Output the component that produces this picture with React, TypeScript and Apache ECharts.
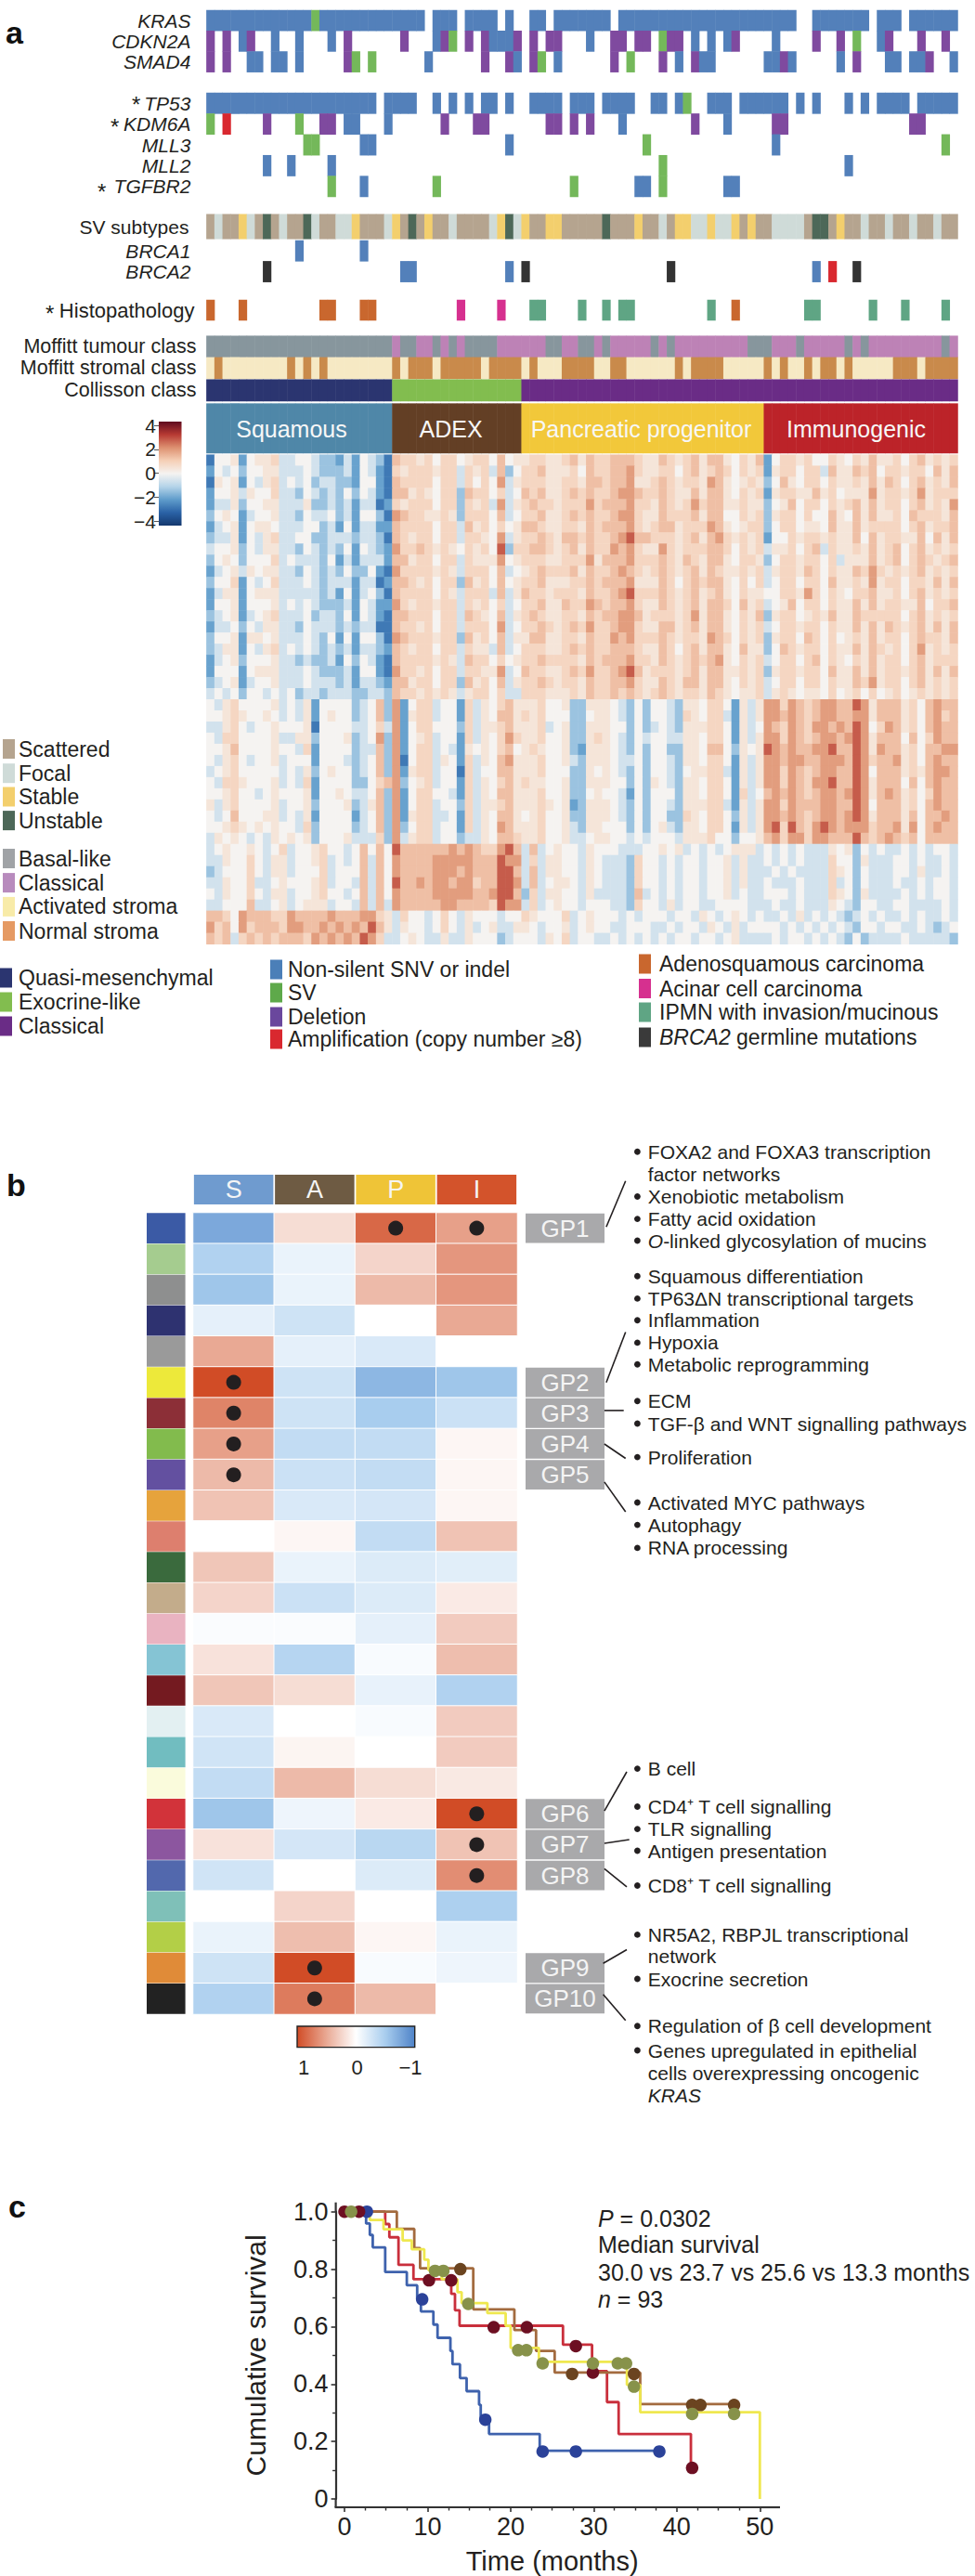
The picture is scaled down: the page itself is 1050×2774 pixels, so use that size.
import React, { useEffect, useRef } from "react";
import * as echarts from "echarts";

const FONT = "Liberation Sans";
const INK = "#231f20";

/* ---------- panel a: genomic tracks (runs of patient columns) ---------- */
const PATIENTS = Array.from({ length: 93 }, (_, i) => String(i));

const KRAS = [[0,12,"n"],[13,13,"v"],[14,26,"n"],[28,30,"n"],[32,35,"n"],[37,37,"n"],[40,41,"n"],[43,49,"n"],[51,72,"n"],[75,81,"n"],[83,85,"n"],[87,92,"n"]];
const CDKN2A = [[0,0,"d"],[2,2,"d"],[4,4,"n"],[5,5,"d"],[8,8,"n"],[11,11,"n"],[15,15,"n"],[17,17,"d"],[24,24,"d"],[28,28,"n"],[29,29,"d"],[30,30,"v"],[32,32,"d"],[34,34,"d"],[35,37,"n"],[38,38,"d"],[40,40,"d"],[42,43,"d"],[47,47,"n"],[50,51,"d"],[53,54,"d"],[56,56,"v"],[57,58,"d"],[60,60,"n"],[62,62,"n"],[64,64,"n"],[65,65,"d"],[70,70,"n"],[75,75,"d"],[78,78,"d"],[80,80,"v"],[83,83,"n"],[84,84,"d"],[88,88,"d"],[91,91,"d"]];
const SMAD4 = [[0,0,"d"],[2,2,"d"],[5,6,"n"],[8,9,"n"],[11,11,"n"],[17,17,"d"],[18,18,"v"],[20,20,"v"],[27,27,"n"],[34,34,"d"],[37,37,"d"],[38,38,"n"],[40,40,"d"],[41,41,"v"],[43,43,"n"],[50,50,"d"],[52,52,"v"],[56,56,"d"],[58,58,"n"],[60,60,"d"],[61,62,"n"],[69,70,"n"],[71,71,"d"],[72,72,"n"],[78,78,"n"],[80,80,"d"],[84,85,"n"],[87,88,"n"],[89,89,"d"],[92,92,"n"]];
const TP53 = [[0,20,"n"],[22,25,"n"],[28,28,"n"],[30,30,"n"],[32,32,"n"],[34,35,"n"],[37,37,"n"],[40,43,"n"],[45,47,"n"],[49,52,"n"],[55,56,"n"],[58,58,"n"],[59,59,"v"],[62,64,"n"],[66,71,"n"],[73,73,"n"],[75,75,"n"],[79,79,"n"],[81,81,"n"],[83,86,"n"],[88,92,"n"]];
const KDM6A = [[0,0,"v"],[2,2,"a"],[7,7,"d"],[11,11,"v"],[14,15,"d"],[17,18,"n"],[22,22,"n"],[29,29,"d"],[33,34,"d"],[42,43,"d"],[45,45,"d"],[47,47,"d"],[51,51,"n"],[60,60,"d"],[64,64,"n"],[70,71,"d"],[87,88,"d"]];
const MLL3 = [[12,13,"v"],[19,20,"n"],[37,37,"n"],[54,54,"v"],[70,70,"n"],[91,91,"v"]];
const MLL2 = [[7,7,"n"],[10,10,"n"],[15,15,"n"],[56,56,"v"],[79,79,"n"]];
const TGFBR2 = [[15,15,"v"],[19,19,"n"],[28,28,"v"],[45,45,"v"],[53,54,"n"],[56,56,"v"],[64,65,"n"]];
const SV_SUBTYPES = [[0,0,"T"],[1,1,"F"],[2,3,"T"],[4,4,"S"],[5,5,"F"],[6,6,"T"],[7,7,"U"],[8,8,"T"],[9,9,"F"],[10,11,"T"],[12,12,"U"],[13,13,"F"],[14,15,"T"],[16,17,"F"],[18,18,"S"],[19,21,"T"],[22,22,"F"],[23,23,"S"],[24,24,"T"],[25,25,"U"],[26,26,"T"],[27,27,"S"],[28,29,"T"],[30,30,"F"],[31,34,"T"],[35,35,"F"],[36,36,"S"],[37,37,"U"],[38,38,"F"],[39,39,"S"],[40,41,"T"],[42,43,"S"],[44,48,"T"],[49,49,"U"],[50,52,"T"],[53,53,"S"],[54,55,"T"],[56,56,"F"],[57,57,"T"],[58,59,"S"],[60,61,"F"],[62,62,"S"],[63,64,"F"],[65,65,"S"],[66,66,"T"],[67,67,"S"],[68,69,"T"],[70,73,"F"],[74,74,"T"],[75,76,"U"],[77,77,"T"],[78,78,"S"],[79,80,"T"],[81,81,"F"],[82,83,"T"],[84,84,"F"],[85,86,"T"],[87,87,"F"],[88,89,"T"],[90,90,"F"],[91,92,"T"]];
const BRCA1 = [[11,11,"n"],[19,19,"n"]];
const BRCA2 = [[7,7,"k"],[24,25,"n"],[37,37,"n"],[39,39,"k"],[57,57,"k"],[75,75,"n"],[77,77,"a"],[80,80,"k"]];
const HISTOPATHOLOGY = [[0,0,"AD"],[4,4,"AD"],[14,15,"AD"],[19,20,"AD"],[31,31,"AC"],[36,36,"AC"],[40,41,"IP"],[46,46,"IP"],[49,49,"IP"],[51,52,"IP"],[62,62,"IP"],[65,65,"AD"],[74,75,"IP"],[82,82,"IP"],[86,86,"IP"],[91,91,"IP"]];
const MOFFITT_TUMOUR = [[0,22,"B"],[23,23,"C"],[24,25,"B"],[26,27,"C"],[28,28,"B"],[29,29,"C"],[30,30,"B"],[31,31,"C"],[32,35,"B"],[36,41,"C"],[42,43,"B"],[44,45,"C"],[46,47,"B"],[48,48,"C"],[49,49,"B"],[50,54,"C"],[55,55,"B"],[56,56,"C"],[57,57,"B"],[58,66,"C"],[67,69,"B"],[70,72,"C"],[73,73,"B"],[74,78,"C"],[79,79,"B"],[80,80,"C"],[81,81,"B"],[82,90,"C"],[91,91,"B"],[92,92,"C"]];
const MOFFITT_STROMAL = [[0,0,"a1"],[1,1,"a2"],[2,9,"a1"],[10,10,"a2"],[11,11,"a1"],[12,12,"a2"],[13,13,"a1"],[14,14,"a2"],[15,22,"a1"],[23,23,"a2"],[24,24,"a1"],[25,27,"a2"],[28,28,"a1"],[29,33,"a2"],[34,34,"a1"],[35,38,"a2"],[39,39,"a1"],[40,40,"a2"],[41,43,"a1"],[44,47,"a2"],[48,49,"a1"],[50,51,"a2"],[52,57,"a1"],[58,58,"a2"],[59,59,"a1"],[60,63,"a2"],[64,68,"a1"],[69,69,"a2"],[70,70,"a1"],[71,71,"a2"],[72,73,"a1"],[74,74,"a2"],[75,75,"a1"],[76,77,"a2"],[78,78,"a1"],[79,79,"a2"],[80,84,"a1"],[85,87,"a2"],[88,88,"a1"],[89,92,"a2"]];
const COLLISSON = [[0,22,"QM"],[23,38,"EX"],[39,92,"CO"]];
const SUBTYPES = [[0,22,"HS"],[23,38,"HA"],[39,68,"HP"],[69,92,"HI"]];
const SUBTYPE_NAMES = ["Squamous", "ADEX", "Pancreatic progenitor", "Immunogenic"];

const TRACK_COLORS: Record<string, string> = {
  n: "#5380ba", v: "#74b85a", d: "#7f4a9f", a: "#d9282f", k: "#333333",
  T: "#b5a48f", F: "#cfdbd8", S: "#f3cf6d", U: "#4d6858",
  AD: "#c9672e", AC: "#d6308f", IP: "#5fa584",
  B: "#87969d", C: "#bd82b6", a1: "#f6e9c4", a2: "#c98a4b",
  QM: "#2b3570", EX: "#82bd4f", CO: "#6a2c86",
  HS: "#4f87a8", HA: "#633f25", HP: "#f2c83a", HI: "#bc2329",
};

/* ---------- panel a: expression heat map, estimated levels per band and patient
   (digit 0 = deep blue ... 4 = neutral ... 9 = dark red) ---------- */
const HEAT_LEVEL_VALUES = [-2.6, -1.9, -1.3, -0.55, 0, 0.4, 0.8, 1.25, 1.8, 2.6];
const HEAT_ROWS = [
"04451 45563 34432 21314 320 76656 46645 66474 5 56655 67576 67776 55765 67577 54657 14665 64465 46575 56467 5656",
"14342 44553 33432 22314 310 65666 56636 56372 4 66755 56476 67786 55664 67567 64656 15664 66375 57674 66566 4757",
"05451 43563 43423 32214 410 76666 46636 46483 5 66655 66577 67785 56765 66587 54565 24754 66465 56575 76467 5657",
"14453 54463 32432 32424 310 77565 46627 66463 4 76755 67676 67887 66765 57577 54656 15665 57564 55585 66568 5666",
"13352 44553 33522 32313 301 65666 46626 56383 5 67665 66686 77786 65765 68677 55655 24574 66465 67575 66467 5658",
"24541 34453 32433 42314 420 87665 56526 66473 4 66755 67676 67886 55766 67577 44656 25664 64475 47575 56476 6657",
"13451 45543 33442 31413 311 76666 46637 56464 5 77655 66576 77786 56775 66687 54566 24664 55475 57566 66467 5667",
"23351 43563 34422 33323 320 76566 46636 65483 5 66765 77676 67897 76665 67578 65656 14465 66565 57475 66557 4757",
"34452 43553 32432 32414 321 86676 56546 56492 6 67765 67576 68786 55865 66677 64656 35564 67365 56575 67467 5656",
"24542 44463 43332 41313 331 77566 46636 55584 5 66655 66685 77786 66765 76577 54665 24665 66463 55575 67467 6567",
"13453 54553 32432 32422 410 86666 56536 66473 4 56766 67576 67876 56765 67576 55656 35665 76465 57686 56567 5656",
"24461 43463 33432 33313 301 77656 46627 56474 5 66755 56676 77785 55764 67677 54646 34664 66475 56585 66466 5757",
"13551 45553 33332 31413 420 76666 46536 66373 5 76656 66576 67896 66765 67567 54655 44665 86465 46675 56467 5656",
"14451 44453 43432 22314 311 86566 56636 56463 4 66755 76687 67786 55765 67577 64756 34574 66465 57575 66557 4667",
"23451 34563 33423 32414 310 77666 46637 65473 5 67655 66576 77887 56665 68577 54657 25664 56575 57666 66467 5656",
"13342 43553 32433 32323 300 76656 46636 66483 4 66765 67686 67886 55775 67577 54656 34665 66465 57575 76567 5757",
"24451 55453 33432 41414 420 87666 56627 56473 5 57755 66576 68786 66765 66587 64656 25664 76464 56575 66467 6657",
"23551 43563 43432 32313 321 76566 46636 55373 4 66655 67676 67776 55764 67577 54755 24765 66465 57576 56468 5656",
"13452 44453 32322 31424 310 76666 56537 66464 5 66766 66576 77786 65765 67678 54656 34664 67465 46575 66467 5666",
"14441 45553 33432 22314 410 86656 46636 65583 4 76655 67686 67897 56665 67577 55656 25665 66475 57575 66567 5757",
"23451 34453 33433 32313 321 77566 46627 56473 5 66765 66576 67786 55765 77577 54656 34664 66465 57685 66467 5656",
"34342 44343 42332 33322 332 76656 56535 66463 3 66655 56576 67676 56765 66576 54556 35654 55464 56464 56456 5656",
"43564 44453 43514 44423 472 81466 34416 35467 5 55644 52255 54324 24432 55466 41535 88687 67887 79857 77564 7877",
"44565 44543 43514 54423 472 81566 34416 35477 5 65644 42245 54324 24432 65466 31535 88787 67887 78857 77564 7867",
"33564 34454 44504 44433 463 81466 44426 35567 5 55634 52255 54424 23432 55566 41534 87687 68878 79846 87564 7877",
"43664 44453 35524 44523 482 81456 34416 35468 6 55644 52256 54324 34433 55466 41535 88687 67887 89857 77474 6877",
"44574 44454 43614 44423 372 81466 34315 45467 4 56544 52155 54324 24422 55477 42545 98787 78897 79858 77564 7788",
"43564 34453 44414 44323 472 80466 35416 35478 5 55644 53255 54334 24432 55466 41535 88788 77888 79867 78564 7877",
"34564 44443 43524 54423 472 81566 34406 34477 5 55644 42254 54324 24432 45566 31535 88687 67887 79847 77565 7887",
"43665 44453 43614 44422 467 82456 34416 35467 5 65544 52255 54424 25432 55466 41535 88687 68897 79857 77474 7877",
"44564 43454 44514 45433 472 81466 44316 35477 5 55644 52245 44314 24442 55466 41634 78787 67887 89857 87564 6877",
"53564 44453 44524 44523 572 81466 34426 35567 5 55654 51255 54324 24432 55566 31535 88687 77887 79847 77564 7877",
"43474 44553 43514 44413 472 81566 33416 35477 5 45644 52255 54324 24422 65466 42535 88787 67887 89857 77574 7787",
"44565 45454 43624 44423 472 82466 34416 35487 5 55644 53255 44424 24532 55466 41535 89697 68987 88867 78584 7877",
"35454 34354 54524 44533 362 83566 34423 35477 6 55644 53345 54434 34443 55564 42445 78688 68877 79767 87674 7777",
"34544 54346 34456 44347 474 97777 77878 76689 7 37345 44354 44333 44545 34343 45553 43434 33354 52434 33434 3443",
"33544 64355 34456 34347 374 87777 88888 77798 8 36355 44354 33326 44343 44344 53533 43434 33364 42533 34434 3343",
"23444 64355 34446 34447 374 87777 88878 77799 7 37355 44354 33326 44343 44344 53533 34343 33365 42433 34435 3343",
"33544 63345 44456 34437 374 97787 88788 67799 8 37345 54354 33326 44343 44344 53533 43334 33363 42433 34334 3443",
"43544 64355 34456 44347 374 87777 88888 77899 7 26355 44353 33327 34343 44344 53433 44434 33365 42533 33434 3443",
"33444 73345 34555 34437 373 87777 78877 77698 8 36345 44344 43326 44353 44334 44433 34334 33354 32443 34433 3343",
"77648 77766 87777 87778 865 36443 46435 44434 4 65444 63454 44343 44434 43543 45434 33435 34343 23434 33434 3343",
"86748 67776 88778 78787 975 35443 46435 34533 5 54344 53454 43344 43343 44354 35344 44343 43434 32443 44334 3234",
"76736 76767 77687 87879 863 34543 35335 44423 4 44354 63443 34343 43434 43443 45333 34344 34343 24233 33433 3332",
];
const HEAT_COLORS = ["#14386e", "#2a62a6", "#5f9ccb", "#b5d4e9", "#f5f3f1", "#f5cfb6", "#dd9070", "#b73a33", "#5f0a1e"];
const HEAT_TICKS = [-4, -2, 0, 2, 4];

/* ---------- panel a: legends ---------- */
const LEGEND_STABILITY = [["Scattered", "#b5a48f"], ["Focal", "#cfdbd8"], ["Stable", "#f3cf6d"], ["Unstable", "#4d6858"]];
const LEGEND_MOFFITT = [["Basal-like", "#a0a3a6"], ["Classical", "#b88bbd"], ["Activated stroma", "#f8eba8"], ["Normal stroma", "#e59a63"]];
const LEGEND_COLLISSON = [["Quasi-mesenchymal", "#2b3570"], ["Exocrine-like", "#82bd4f"], ["Classical", "#6a2c86"]];
const LEGEND_MUTATION = [["Non-silent SNV or indel", "#4b7fb8"], ["SV", "#5ea94a"], ["Deletion", "#6a479d"], ["Amplification (copy number ≥8)", "#d9282f"]];
const LEGEND_HISTO = [["Adenosquamous carcinoma", "#c9672e"], ["Acinar cell carcinoma", "#d6308f"], ["IPMN with invasion/mucinous", "#5fa584"], ["{i|BRCA2} germline mutations", "#3a3a3a"]];

/* ---------- panel b ---------- */
const CLASS_HEADERS = ["S", "A", "P", "I"];
const CLASS_COLORS = ["#6f9bcf", "#6e5b43", "#efc437", "#d3532b"];
const GP_MODULE_COLORS = ["#3b5aa5","#a5cc8f","#8e8f8f","#2e3270","#9a9a9a","#ede93a","#8c2f37","#82bb4d","#6350a0","#e6a33c","#dd7f6e","#3a6a3d","#c3ac8b","#e9b3c1","#85c4d4","#741a20","#e3f0f2","#71bdc0","#fafbdc","#d2333a","#8c569f","#5268ad","#7fc0b8","#b3cf47","#e08b38","#222222"];
const GP_VALUES = [
  [-0.75, 0.2, 0.85, 0.55],[-0.45, -0.12, 0.25, 0.6],[-0.55, -0.12, 0.4, 0.6],[-0.15, -0.28, 0, 0.5],
  [0.5, -0.15, -0.22, 0],[1.0, -0.28, -0.65, -0.55],[0.7, -0.28, -0.5, -0.3],[0.55, -0.35, -0.35, 0.05],
  [0.4, -0.3, -0.35, 0.05],[0.35, -0.22, -0.25, 0.05],[0, 0.05, -0.35, 0.35],[0.33, -0.12, -0.2, -0.17],
  [0.25, -0.3, -0.2, 0.12],[-0.03, -0.03, -0.15, 0.3],[0.17, -0.42, -0.04, 0.38],[0.33, 0.2, -0.13, -0.45],
  [-0.22, 0, -0.04, 0.3],[-0.27, 0.06, 0, 0.3],[-0.35, 0.4, 0.2, 0.13],[-0.55, -0.1, 0.12, 1.0],
  [0.17, -0.25, -0.4, 0.35],[-0.27, 0, -0.2, 0.65],[0, 0.25, 0, -0.47],[-0.12, 0.38, 0.05, -0.12],
  [-0.28, 1.0, -0.04, -0.1],[-0.45, 0.75, 0.4, 0],
];
const GP_SIGNIFICANT = [[2,0],[3,0],[0,5],[0,6],[0,7],[0,8],[3,19],[3,20],[3,21],[1,24],[1,25]];
const GP_LABELS = [["GP1",0],["GP2",5],["GP3",6],["GP4",7],["GP5",8],["GP6",19],["GP7",20],["GP8",21],["GP9",24],["GP10",25]];
const GP_SCALE_TICKS = ["1", "0", "−1"];
const GP_NOTES = [
  "FOXA2 and FOXA3 transcription", "factor networks", "Xenobiotic metabolism", "Fatty acid oxidation", "{i|O}-linked glycosylation of mucins",
  "Squamous differentiation", "TP63ΔN transcriptional targets", "Inflammation", "Hypoxia", "Metabolic reprogramming",
  "ECM", "TGF-β and WNT signalling pathways", "Proliferation", "Activated MYC pathways", "Autophagy", "RNA processing",
  "B cell", "CD4⁺ T cell signalling", "TLR signalling", "Antigen presentation", "CD8⁺ T cell signalling",
  "NR5A2, RBPJL transcriptional", "network", "Exocrine secretion", "Regulation of β cell development",
  "Genes upregulated in epithelial", "cells overexpressing oncogenic", "{i|KRAS}",
];
const GP_NOTE_CONTINUATIONS = ["factor networks", "network", "cells overexpressing oncogenic", "{i|KRAS}"];

/* ---------- panel c ---------- */
const KM_BLUE = [[0,1],[2.6,0.959],[3.05,0.919],[3.4,0.876],[4.9,0.79],[7.5,0.744],[8.75,0.695],[9.2,0.653],[10.7,0.607],[11.2,0.561],[12.75,0.515],[13,0.469],[13.9,0.421],[14.7,0.375],[16.2,0.328],[16.4,0.278],[17.4,0.226],[23.5,0.168],[37.9,0.168]];
const KM_RED = [[0,1],[4.9,0.957],[5.4,0.911],[6.5,0.815],[8.3,0.765],[12.85,0.714],[13.3,0.657],[13.85,0.603],[26.3,0.537],[29.8,0.445],[31.6,0.337],[33,0.226],[41.7,0.108]];
const KM_BROWN = [[0,1],[6.3,0.94],[8.4,0.873],[9.1,0.803],[15.5,0.66],[20.45,0.588],[23.06,0.515],[25.3,0.44],[35.6,0.33],[47,0.33]];
const KM_YELLOW = [[0,1],[3.05,0.971],[4.7,0.939],[7,0.9],[8.1,0.869],[9.6,0.833],[10.1,0.797],[11.7,0.765],[13.6,0.72],[14.1,0.682],[17.2,0.647],[19.4,0.603],[20,0.526],[23.4,0.477],[34,0.397],[35.6,0.302],[50,0]];
const CENSOR_BLUE = [[2.7,1],[9.35,0.695],[16.95,0.276],[23.85,0.165],[27.85,0.165],[37.9,0.165]];
const CENSOR_RED = [[0,1],[1.75,1],[10.17,0.761],[12.85,0.761],[17.96,0.598],[21.95,0.598],[27.85,0.532],[29.9,0.44],[41.85,0.108]];
const CENSOR_BROWN = [[13.95,0.8],[27.4,0.435],[34.85,0.435],[41.85,0.327],[42.85,0.327],[46.9,0.327]];
const CENSOR_OLIVE = [[0.8,1],[10.9,0.794],[11.9,0.794],[14.9,0.679],[20.9,0.518],[21.9,0.518],[23.85,0.472],[29.9,0.472],[32.9,0.472],[33.9,0.472],[34.85,0.391],[41.85,0.296],[46.9,0.296]];
const KM_ANNOTATION = ["{i|P} = 0.0302", "Median survival", "30.0 vs 23.7 vs 25.6 vs 13.3 months", "{i|n} = 93"];

/* ---------- layout ---------- */
const NOTE_Y = [1240.3,1264.4,1288.5,1312.6,1336,1374.2,1398.4,1421.8,1445.9,1469.3,1508.8,1533,1569.1,1618,1642.1,1666.9,1904.6,1945.5,1969.6,1993,2030.5,2083.4,2106.8,2131,2181.8,2208,2232,2256];
const LEADERS = [
  [652.9,1321.3,673.7,1271.8],[652.9,1488.8,673.7,1434.5],[650.9,1518.9,671.7,1518.9],[650.9,1555,673.7,1570.5],[650.9,1595.9,673.7,1628],
  [650.9,1950.1,675,1908],[650.9,1985,677.7,1981],[650.9,2012.4,675,2031.8],[649.6,2114.2,675,2099.5],[649.6,2147.7,673.7,2175.8],
];

function buildOption() {
  const grid: any[] = [], xAxis: any[] = [], yAxis: any[] = [], series: any[] = [], elements: any[] = [];
  const trackSeries: number[] = [];
  const typeKeys = Object.keys(TRACK_COLORS);
  const LEFT = 222.4, WIDTH = 809.1;

  const txt = (x: number, y: number, text: string, fontSize: number, extra: any = {}) =>
    elements.push({
      type: "text", x, y, z: 100, silent: true,
      style: {
        text, fontSize, fontFamily: FONT, fill: INK, verticalAlign: "middle", align: "left",
        rich: { i: { fontStyle: "italic", fontFamily: FONT, fontSize, fill: INK } }, ...extra,
      },
    });
  const rect = (x: number, y: number, w: number, h: number, fill: any, extra: any = {}) =>
    elements.push({ type: "rect", z: 90, silent: true, shape: { x, y, width: w, height: h }, style: { fill, ...extra } });
  const line = (a: number, b: number, c: number, d: number, stroke = INK, lineWidth = 1.6) =>
    elements.push({ type: "line", z: 90, silent: true, shape: { x1: a, y1: b, x2: c, y2: d }, style: { stroke, lineWidth } });

  const addTrack = (top: number, height: number, rows: [string, any[]][], label: any = {}) => {
    const idx = grid.length;
    grid.push({ left: LEFT, width: WIDTH, top, height });
    xAxis.push({ type: "category", gridIndex: idx, data: PATIENTS, show: false });
    yAxis.push({
      type: "category", gridIndex: idx, inverse: true, data: rows.map((r) => r[0]),
      axisLine: { show: false }, axisTick: { show: false },
      axisLabel: { fontFamily: FONT, fontSize: 21, color: INK, margin: 17, interval: 0, hideOverlap: false, ...label },
    });
    const data: number[][] = [];
    rows.forEach((r, ri) => r[1].forEach((run) => {
      for (let c = run[0]; c <= run[1]; c++) data.push([c, ri, typeKeys.indexOf(run[2]) + 1]);
    }));
    trackSeries.push(series.length);
    series.push({ type: "heatmap", xAxisIndex: idx, yAxisIndex: idx, data, progressive: 0, silent: true });
  };

  addTrack(11, 66.7, [["KRAS", KRAS], ["CDKN2A", CDKN2A], ["SMAD4", SMAD4]], { fontStyle: "italic" });
  addTrack(100, 112, [["TP53", TP53], ["KDM6A", KDM6A], ["MLL3", MLL3], ["MLL2", MLL2], ["TGFBR2", TGFBR2]], { fontStyle: "italic" });
  addTrack(230.7, 26.6, [["SV subtypes", SV_SUBTYPES]], { margin: 19 });
  addTrack(259, 44.7, [["BRCA1", BRCA1], ["BRCA2", BRCA2]], { fontStyle: "italic" });
  addTrack(323, 22, [["Histopathology", HISTOPATHOLOGY]], { margin: 13, fontSize: 22 });
  addTrack(361.7, 46.3, [["Moffitt tumour class", MOFFITT_TUMOUR], ["Moffitt stromal class", MOFFITT_STROMAL]], { margin: 11, fontSize: 21.5 });
  addTrack(408.7, 23.3, [["Collisson class", COLLISSON]], { margin: 11, fontSize: 21.5 });
  addTrack(434.6, 53.4, [["", SUBTYPES]]);

  [[314, 0], [485.6, 1], [690.5, 2], [922, 3]].forEach(([x, i]) =>
    txt(x, 461.7, SUBTYPE_NAMES[i], 25, { fill: "#f7f7f7", align: "center" }));
  txt(142, 112, "*", 24); txt(119, 136, "*", 24); txt(105, 206, "*", 24); txt(49, 337, "*", 24);

  // heat map
  const hIdx = grid.length;
  grid.push({ left: LEFT, width: WIDTH, top: 489.7, height: 527.1 });
  xAxis.push({ type: "category", gridIndex: hIdx, data: PATIENTS, show: false });
  yAxis.push({ type: "category", gridIndex: hIdx, inverse: true, data: HEAT_ROWS.map((_, i) => String(i)), show: false });
  const heat: number[][] = [];
  HEAT_ROWS.forEach((row, r) => {
    const digits = row.replace(/[^0-9]/g, "");
    for (let c = 0; c < 93 && c < digits.length; c++) heat.push([c, r, HEAT_LEVEL_VALUES[Number(digits[c])]]);
  });
  const heatSeries = series.length;
  series.push({ type: "heatmap", xAxisIndex: hIdx, yAxisIndex: hIdx, data: heat, progressive: 0, silent: true });

  // heat map colour key
  rect(171, 454, 24.5, 112, new echarts.graphic.LinearGradient(0, 0, 0, 1,
    HEAT_COLORS.slice().reverse().map((color, i, a) => ({ offset: i / (a.length - 1), color }))));
  const kIdx = grid.length;
  grid.push({ left: 171, width: 24.5, top: 458, height: 103 });
  xAxis.push({ type: "value", gridIndex: kIdx, show: false, min: 0, max: 1 });
  yAxis.push({
    type: "value", gridIndex: kIdx, min: HEAT_TICKS[0], max: HEAT_TICKS[4], interval: 2, splitLine: { show: false },
    axisLine: { show: false }, axisTick: { show: true, length: 5, lineStyle: { color: "#555" } },
    axisLabel: { fontFamily: FONT, fontSize: 21, color: INK, margin: 3, formatter: (v: number) => String(v).replace("-", "−") },
  });

  // legends of panel a
  const legend = (items: string[][], ys: number[], sx: number, tx: number) =>
    items.forEach(([label, color], i) => {
      rect(sx, ys[i] - 10.5, 13, 21, color);
      txt(tx, ys[i], label, 23);
    });
  legend(LEGEND_STABILITY, [806.5, 832.7, 858, 883.6], 3, 20);
  legend(LEGEND_MOFFITT, [924.5, 950.6, 976.4, 1002.5], 3, 20);
  legend(LEGEND_COLLISSON, [1053, 1079, 1105], 0, 20);
  legend(LEGEND_MUTATION, [1044, 1069, 1095, 1119], 291, 310);
  legend(LEGEND_HISTO, [1038, 1064.5, 1090, 1117], 688, 710);

  // panel labels
  [["a", 6, 18], ["b", 7, 1259], ["c", 9, 2359]].forEach(([t, x, y]: any) =>
    txt(x, y, t, 34, { fontWeight: "bold", verticalAlign: "alphabetic", fill: "#111" }));

  // panel b
  const rowsB = GP_VALUES.map((_, i) => String(i));
  const bTop = 1306, bH = 863;
  const hb = grid.length;
  grid.push({ left: 208, width: 349, top: 1265, height: 32 });
  xAxis.push({ type: "category", gridIndex: hb, data: CLASS_HEADERS, show: false });
  yAxis.push({ type: "value", gridIndex: hb, min: 0, max: 1, show: false });
  series.push({
    type: "bar", xAxisIndex: hb, yAxisIndex: hb, silent: true, barCategoryGap: "2%",
    data: CLASS_HEADERS.map((h, i) => ({
      value: 1, itemStyle: { color: CLASS_COLORS[i] },
      label: { show: true, position: "inside", formatter: h, fontFamily: FONT, fontSize: 27, color: "#f5f5f5" },
    })),
  });

  const st = grid.length;
  grid.push({ left: 158, width: 41.6, top: bTop, height: bH });
  xAxis.push({ type: "value", gridIndex: st, min: 0, max: 1, show: false });
  yAxis.push({ type: "category", gridIndex: st, inverse: true, data: rowsB, show: false });
  series.push({
    type: "bar", xAxisIndex: st, yAxisIndex: st, silent: true, barCategoryGap: "1.5%",
    data: GP_MODULE_COLORS.map((color) => ({ value: 1, itemStyle: { color } })),
  });

  const gb = grid.length;
  grid.push({ left: 208, width: 349, top: bTop, height: bH });
  xAxis.push({ type: "category", gridIndex: gb, data: CLASS_HEADERS, show: false });
  yAxis.push({ type: "category", gridIndex: gb, inverse: true, data: rowsB, show: false });
  const gpData: number[][] = [];
  GP_VALUES.forEach((row, r) => row.forEach((v, c) => gpData.push([c, r, v])));
  const gpSeries = series.length;
  series.push({
    type: "heatmap", xAxisIndex: gb, yAxisIndex: gb, data: gpData, progressive: 0, silent: true,
    itemStyle: { borderColor: "#ffffff", borderWidth: 1 },
  });
  series.push({
    type: "scatter", xAxisIndex: gb, yAxisIndex: gb, data: GP_SIGNIFICANT, symbolSize: 16, silent: true, z: 5,
    itemStyle: { color: "#231f20", opacity: 1 },
  });

  const gl = grid.length;
  grid.push({ left: 566, width: 85, top: bTop, height: bH });
  xAxis.push({ type: "value", gridIndex: gl, min: 0, max: 1, show: false });
  yAxis.push({ type: "category", gridIndex: gl, inverse: true, data: rowsB, show: false });
  series.push({
    type: "bar", xAxisIndex: gl, yAxisIndex: gl, silent: true, barCategoryGap: "4%",
    data: rowsB.map((_, i) => {
      const hit = GP_LABELS.find((g) => g[1] === i);
      return hit
        ? { value: 1, name: String(hit[0]), itemStyle: { color: "#a9a9ab" },
            label: { show: true, position: "inside", formatter: String(hit[0]), fontFamily: FONT, fontSize: 26, color: "#f4f4f4" } }
        : { value: 0 };
    }),
  });

  LEADERS.forEach((l) => line(l[0], l[1], l[2], l[3]));
  GP_NOTES.forEach((t, i) => {
    if (!GP_NOTE_CONTINUATIONS.includes(t))
      elements.push({ type: "circle", z: 90, silent: true, shape: { cx: 686.4, cy: NOTE_Y[i], r: 3.4 }, style: { fill: INK } });
    txt(697.8, NOTE_Y[i], t, 21);
  });
  rect(320, 2182, 126.7, 22.6, new echarts.graphic.LinearGradient(0, 0, 1, 0, [
    { offset: 0, color: "#d14c26" }, { offset: 0.25, color: "#e9a994" }, { offset: 0.5, color: "#ffffff" },
    { offset: 0.75, color: "#a8cdee" }, { offset: 1, color: "#4f83c8" },
  ]), { stroke: "#222", lineWidth: 1.4 });
  GP_SCALE_TICKS.forEach((t, i) => txt(327 + 57.5 * i, 2226, t, 22, { align: "center" }));

  // panel c
  const c = grid.length;
  grid.push({ left: 371, width: 447.3, top: 2381.7, height: 309.3 });
  const axisLine = { show: true, onZero: false, lineStyle: { color: "#333", width: 2.2 } };
  const tick = { show: true, length: 5, lineStyle: { color: "#333", width: 1.6 } };
  const minor = (splitNumber: number) => ({ show: true, splitNumber, length: 3.5, lineStyle: { color: "#333", width: 1.4 } });
  xAxis.push({
    type: "value", gridIndex: c, min: 0, max: 50, interval: 10, offset: 9,
    axisLine, axisTick: tick, minorTick: minor(4), splitLine: { show: false },
    axisLabel: { fontFamily: FONT, fontSize: 27, color: INK, margin: 7 },
    name: "Time (months)", nameLocation: "middle", nameGap: 43,
    nameTextStyle: { fontFamily: FONT, fontSize: 29, color: INK },
  });
  yAxis.push({
    type: "value", gridIndex: c, min: 0, max: 1, interval: 0.2, offset: 9.4,
    axisLine, axisTick: tick, minorTick: minor(2), splitLine: { show: false },
    axisLabel: { fontFamily: FONT, fontSize: 27, color: INK, margin: 8, formatter: (v: number) => (v === 0 ? "0" : v.toFixed(1)) },
    name: "Cumulative survival", nameLocation: "middle", nameGap: 71,
    nameTextStyle: { fontFamily: FONT, fontSize: 30, color: INK },
  });
  line(361.6, 2371.7, 361.6, 2381.7, "#333", 2.2);
  line(361.6, 2691, 361.6, 2700, "#333", 2.2);
  line(360.5, 2700, 371, 2700, "#333", 2.2);
  line(818.3, 2700, 840, 2700, "#333", 2.2);
  ([[KM_BLUE, "#3e62ad"], [KM_RED, "#c92f3c"], [KM_BROWN, "#a36b3f"], [KM_YELLOW, "#efe84f"]] as any[]).forEach(([data, color]) =>
    series.push({
      type: "line", xAxisIndex: c, yAxisIndex: c, data, step: "end", symbol: "none", clip: false, silent: true,
      lineStyle: { color, width: 2.8 },
    }));
  ([[CENSOR_BLUE, "#2b4299"], [CENSOR_RED, "#6d0f22"], [CENSOR_BROWN, "#6b4420"], [CENSOR_OLIVE, "#87924a"]] as any[]).forEach(([data, color]) =>
    series.push({
      type: "scatter", xAxisIndex: c, yAxisIndex: c, data, symbolSize: 13.5, clip: false, silent: true, z: 6,
      itemStyle: { color, opacity: 1 },
    }));
  [2389, 2416.7, 2447, 2476].forEach((y, i) => txt(644, y, KM_ANNOTATION[i], 25));

  return {
    animation: false,
    backgroundColor: "#ffffff",
    textStyle: { fontFamily: FONT },
    grid, xAxis, yAxis, series,
    visualMap: [
      {
        type: "piecewise", show: false, dimension: 2, seriesIndex: trackSeries,
        pieces: typeKeys.map((k, i) => ({ value: i + 1, color: TRACK_COLORS[k] })),
      },
      { type: "continuous", show: false, dimension: 2, seriesIndex: heatSeries, min: -4, max: 4, inRange: { color: HEAT_COLORS } },
      {
        type: "continuous", show: false, dimension: 2, seriesIndex: gpSeries, min: -1, max: 1,
        inRange: { color: ["#4f83c8", "#a8cdee", "#ffffff", "#e9a994", "#d14c26"] },
      },
    ],
    graphic: { elements },
  };
}

export default function App() {
  const ref = useRef<HTMLDivElement>(null);
  useEffect(() => {
    if (!ref.current) return;
    const chart = echarts.init(ref.current, undefined, { renderer: "svg" });
    chart.setOption(buildOption() as any);
    return () => chart.dispose();
  }, []);
  return <div ref={ref} style={{ position: "absolute", left: 0, top: 0, width: 1050, height: 2774, background: "#fff" }} />;
}
